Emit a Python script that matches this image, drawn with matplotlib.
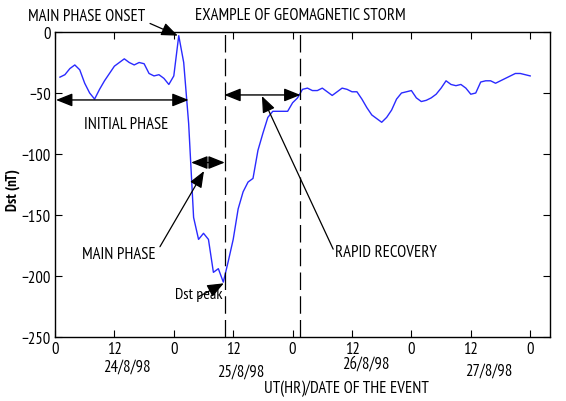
import matplotlib
matplotlib.use("Agg")
import matplotlib.pyplot as plt
from matplotlib import font_manager

fams = {f.name for f in font_manager.fontManager.ttflist}
NARROW = None
for cand in ['Liberation Sans Narrow', 'Arial Narrow', 'PT Sans Narrow', 'Archivo Narrow',
             'Roboto Condensed', 'Open Sans Condensed']:
    if cand in fams:
        NARROW = cand
        break
if NARROW:
    plt.rcParams['font.family'] = [NARROW, 'DejaVu Sans']
    SCALE = 1.0
else:
    plt.rcParams['font.family'] = ['Liberation Sans', 'DejaVu Sans']
    SCALE = 0.8

# ---- data ----
hours = list(range(1, 97))
dst = [-37, -35, -30, -27, -31, -42, -50, -55, -47, -40,
       -34, -28, -25, -22, -25, -27, -25, -26, -34, -36,
       -35, -38, -43, -36, -3, -25, -75, -152, -170, -165,
       -170, -197, -194, -205, -188, -170, -145, -131, -123, -120,
       -97, -83, -70, -65, -65, -65, -65, -58, -54, -47,
       -46, -48, -48, -46, -49, -52, -49, -46, -47, -49,
       -49, -55, -62, -68, -71, -74, -70, -64, -55, -50,
       -49, -48, -54, -57, -56, -54, -51, -46, -40, -43,
       -44, -43, -46, -51, -50, -41, -40, -40, -42, -40,
       -38, -36, -34, -34, -35, -36]
xticks = [0, 12, 24, 36, 48, 60, 72, 84, 96]
xtick_labels = ['0', '12', '0', '12', '0', '12', '0', '12', '0']
yticks = [-250, -200, -150, -100, -50, 0]
date_labels = ['24/8/98', '25/8/98', '26/8/98', '27/8/98']
phase_lines = [34.3, 49.5]

W, H = 566, 402
fig = plt.figure(figsize=(W / 100, H / 100), dpi=100)
ax = fig.add_axes([55 / W, 1 - 338 / H, (550 - 55) / W, (338 - 33) / H])

FS = 12 * SCALE

ax.plot(hours, dst, color='#2a2aff', lw=1.0)
ax.set_xlim(0, 100)
ax.set_ylim(-250, 0)
ax.set_xticks(xticks)
ax.set_xticklabels(xtick_labels)
ax.set_yticks(yticks)
ax.tick_params(direction='in', length=5, top=True, right=True, labelsize=FS, pad=3, width=0.8)
for s in ax.spines.values():
    s.set_linewidth(1.0)

for xl in phase_lines:
    ax.axvline(xl, color='black', lw=0.9, dashes=(14, 5))

def dbl(x0, x1, y):
    ax.annotate('', xy=(x1, y), xytext=(x0, y),
                arrowprops=dict(arrowstyle='<|-|>,head_length=1.0,head_width=0.4',
                                color='black', lw=1.0, shrinkA=0, shrinkB=0),
                annotation_clip=False)

def single(x0, y0, x1, y1):
    ax.annotate('', xy=(x1, y1), xytext=(x0, y0),
                arrowprops=dict(arrowstyle='-|>,head_length=1.0,head_width=0.4',
                                color='black', lw=0.9, shrinkA=0, shrinkB=0),
                annotation_clip=False)

dbl(0.2, 27.0, -55.7)
dbl(27.5, 34.3, -107)
dbl(34.2, 49.6, -51.6)

single(19.2, 7, 24.8, -3)
single(21.2, -176, 30.1, -114)
single(56.2, -178, 41.8, -52.5)
single(29.0, -217, 34.1, -206)

def ftext(x, y, s, **kw):
    fig.text(x / W, 1 - y / H, s, ha='center', va='center', **kw)

ftext(126, 125, 'INITIAL PHASE', fontsize=FS)
ftext(119, 255, 'MAIN PHASE', fontsize=FS)
ftext(199, 295, 'Dst peak', fontsize=FS * 0.95)
ftext(386, 253, 'RAPID RECOVERY', fontsize=FS)
ftext(87, 17, 'MAIN PHASE ONSET', fontsize=FS)
ftext(300, 16, 'EXAMPLE OF GEOMAGNETIC STORM', fontsize=FS)
ftext(127, 368, date_labels[0], fontsize=FS)
ftext(241, 373, date_labels[1], fontsize=FS)
ftext(366, 365, date_labels[2], fontsize=FS)
ftext(489, 372, date_labels[3], fontsize=FS)
ftext(346, 389, 'UT(HR)/DATE OF THE EVENT', fontsize=FS)
ftext(13, 190, 'Dst (nT)', fontsize=FS * 0.9, rotation=90, fontweight='bold')

fig.savefig('out.png', dpi=100)
